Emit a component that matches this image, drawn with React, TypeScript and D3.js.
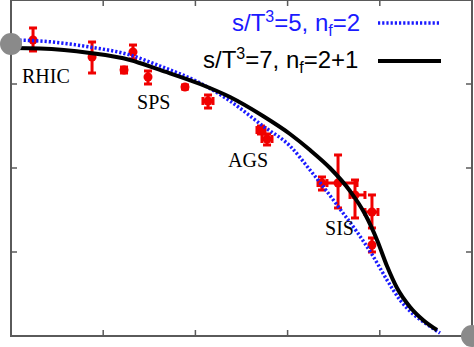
import React from "react";
import * as d3 from "d3";

// Curves (x, y in axis units; 1 unit = one tick interval)
const blackX = [0, 0.315, 0.857, 1.291, 1.616, 2.05, 2.375, 2.733, 3.026, 3.243, 3.46, 3.677, 3.839, 3.97, 4.078, 4.187, 4.328, 4.469, 4.62];
const blackY = [3.429, 3.423, 3.369, 3.286, 3.167, 3.0, 2.845, 2.619, 2.405, 2.214, 2.0, 1.726, 1.452, 1.143, 0.833, 0.571, 0.345, 0.19, 0.071];
const blueX = [0, 0.315, 0.857, 1.291, 1.616, 2.05, 2.375, 2.733, 3.026, 3.243, 3.406, 3.568, 3.753, 3.926, 4.078, 4.219, 4.36, 4.49, 4.653];
const blueY = [3.524, 3.512, 3.44, 3.345, 3.214, 3.012, 2.798, 2.5, 2.262, 1.976, 1.75, 1.512, 1.238, 0.952, 0.667, 0.429, 0.262, 0.155, 0.036];

// Data points with error bars
const ptX = [0.239, 0.879, 1.226, 1.323, 1.486, 1.887, 2.137, 2.711, 2.777, 3.373, 3.547, 3.731, 3.915, 3.915];
const ptY = [3.524, 3.321, 3.167, 3.381, 3.083, 2.964, 2.798, 2.452, 2.345, 1.821, 1.821, 1.679, 1.476, 1.083];
const ptYLo = [3.393, 3.131, 3.131, 3.298, 3.0, 2.94, 2.714, 2.405, 2.274, 1.738, 1.524, 1.405, 1.286, 1.0];
const ptYHi = [3.667, 3.5, 3.202, 3.464, 3.155, 2.988, 2.869, 2.5, 2.405, 1.893, 2.155, 1.857, 1.679, 1.167];
const ptXLo = [null, null, null, null, null, null, 2.082, 2.668, 2.722, 3.33, 3.351, 3.677, 3.839, null];
const ptXHi = [null, null, null, null, null, null, 2.191, 2.755, 2.831, 3.427, 3.753, 3.839, 3.98, null];

// Annotations
const labels = ["RHIC", "SPS", "AGS", "SIS"];
const labelX = [0.119, 1.367, 2.354, 3.406];
const labelY = [3.012, 2.702, 2.012, 1.202];

const xTicks = [1, 2, 3, 4];
const yTicks = [1, 2, 3];

export default function App() {
  const W = 474, H = 347;
  const x = d3.scaleLinear().domain([0, 5]).range([11, 472]);
  const y = d3.scaleLinear().domain([0, 4]).range([336, 0]);
  const line = d3
    .line<[number, number]>()
    .x((d) => x(d[0]))
    .y((d) => y(d[1]))
    .curve(d3.curveMonotoneX);
  const blackPts = blackX.map((v, i) => [v, blackY[i]] as [number, number]);
  const bluePts = blueX.map((v, i) => [v, blueY[i]] as [number, number]);
  const red = "#f00000";
  const blue = "#1a1aff";
  const axisCol = "#5a5a5a";
  const cap = 4;

  return (
    <svg
      width={W}
      height={H}
      style={{ position: "absolute", left: 0, top: 0, background: "#fff" }}
    >
      {/* frame */}
      <rect x={x(0)} y={y(4)} width={x(5) - x(0)} height={y(0) - y(4)} fill="none" stroke={axisCol} strokeWidth={2} />
      {xTicks.map((t) => (
        <g key={"xt" + t}>
          <line x1={x(t)} x2={x(t)} y1={y(0)} y2={y(0) - 6} stroke={axisCol} strokeWidth={1.5} />
          <line x1={x(t)} x2={x(t)} y1={y(4)} y2={y(4) + 6} stroke={axisCol} strokeWidth={1.5} />
        </g>
      ))}
      {yTicks.map((t) => (
        <g key={"yt" + t}>
          <line x1={x(0)} x2={x(0) + 6} y1={y(t)} y2={y(t)} stroke={axisCol} strokeWidth={1.5} />
          <line x1={x(5)} x2={x(5) - 6} y1={y(t)} y2={y(t)} stroke={axisCol} strokeWidth={1.5} />
        </g>
      ))}

      {/* data points */}
      {ptX.map((px, i) => {
        const cx = x(px);
        const cy = y(ptY[i]);
        const lo = y(ptYLo[i]);
        const hi = y(ptYHi[i]);
        const xl = ptXLo[i];
        const xh = ptXHi[i];
        return (
          <g key={"p" + i} stroke={red} strokeWidth={3} fill={red}>
            <line x1={cx} x2={cx} y1={lo} y2={hi} />
            <line x1={cx - cap} x2={cx + cap} y1={lo} y2={lo} />
            <line x1={cx - cap} x2={cx + cap} y1={hi} y2={hi} />
            {xl !== null && xh !== null && (
              <g>
                <line x1={x(xl)} x2={x(xh)} y1={cy} y2={cy} />
                <line x1={x(xl)} x2={x(xl)} y1={cy - cap} y2={cy + cap} />
                <line x1={x(xh)} x2={x(xh)} y1={cy - cap} y2={cy + cap} />
              </g>
            )}
            <circle cx={cx} cy={cy} r={4.5} stroke="none" />
          </g>
        );
      })}

      {/* curves */}
      <path d={line(bluePts) || ""} fill="none" stroke={blue} strokeWidth={3.5} strokeDasharray="2.2,2" />
      <path d={line(blackPts) || ""} fill="none" stroke="#000" strokeWidth={4} />

      {/* labels */}
      {labels.map((l, i) => (
        <text key={l} x={x(labelX[i])} y={y(labelY[i])} fontFamily="'Liberation Serif', 'Times New Roman', serif" fontSize={20} fill="#000">
          {l}
        </text>
      ))}

      {/* legend */}
      <text x={232} y={31} fontFamily="'Liberation Sans', Arial, sans-serif" fontSize={24} fill={blue}>
        s/T<tspan dy={-9} fontSize={16}>3</tspan>
        <tspan dy={9}>=5, n</tspan>
        <tspan dy={5} fontSize={16}>f</tspan>
        <tspan dy={-5}>=2</tspan>
      </text>
      <line x1={378} x2={441} y1={23} y2={23} stroke={blue} strokeWidth={3.5} strokeDasharray="2.2,2" />
      <text x={203} y={68} fontFamily="'Liberation Sans', Arial, sans-serif" fontSize={24} fill="#000">
        s/T<tspan dy={-9} fontSize={16}>3</tspan>
        <tspan dy={9}>=7, n</tspan>
        <tspan dy={5} fontSize={16}>f</tspan>
        <tspan dy={-5}>=2+1</tspan>
      </text>
      <line x1={378} x2={441} y1={61} y2={61} stroke="#000" strokeWidth={4} />

      {/* gray end markers */}
      <circle cx={x(0)} cy={y(3.476)} r={11} fill="#8a8a8a" />
      <circle cx={x(5)} cy={y(0)} r={11} fill="#8a8a8a" />
    </svg>
  );
}
